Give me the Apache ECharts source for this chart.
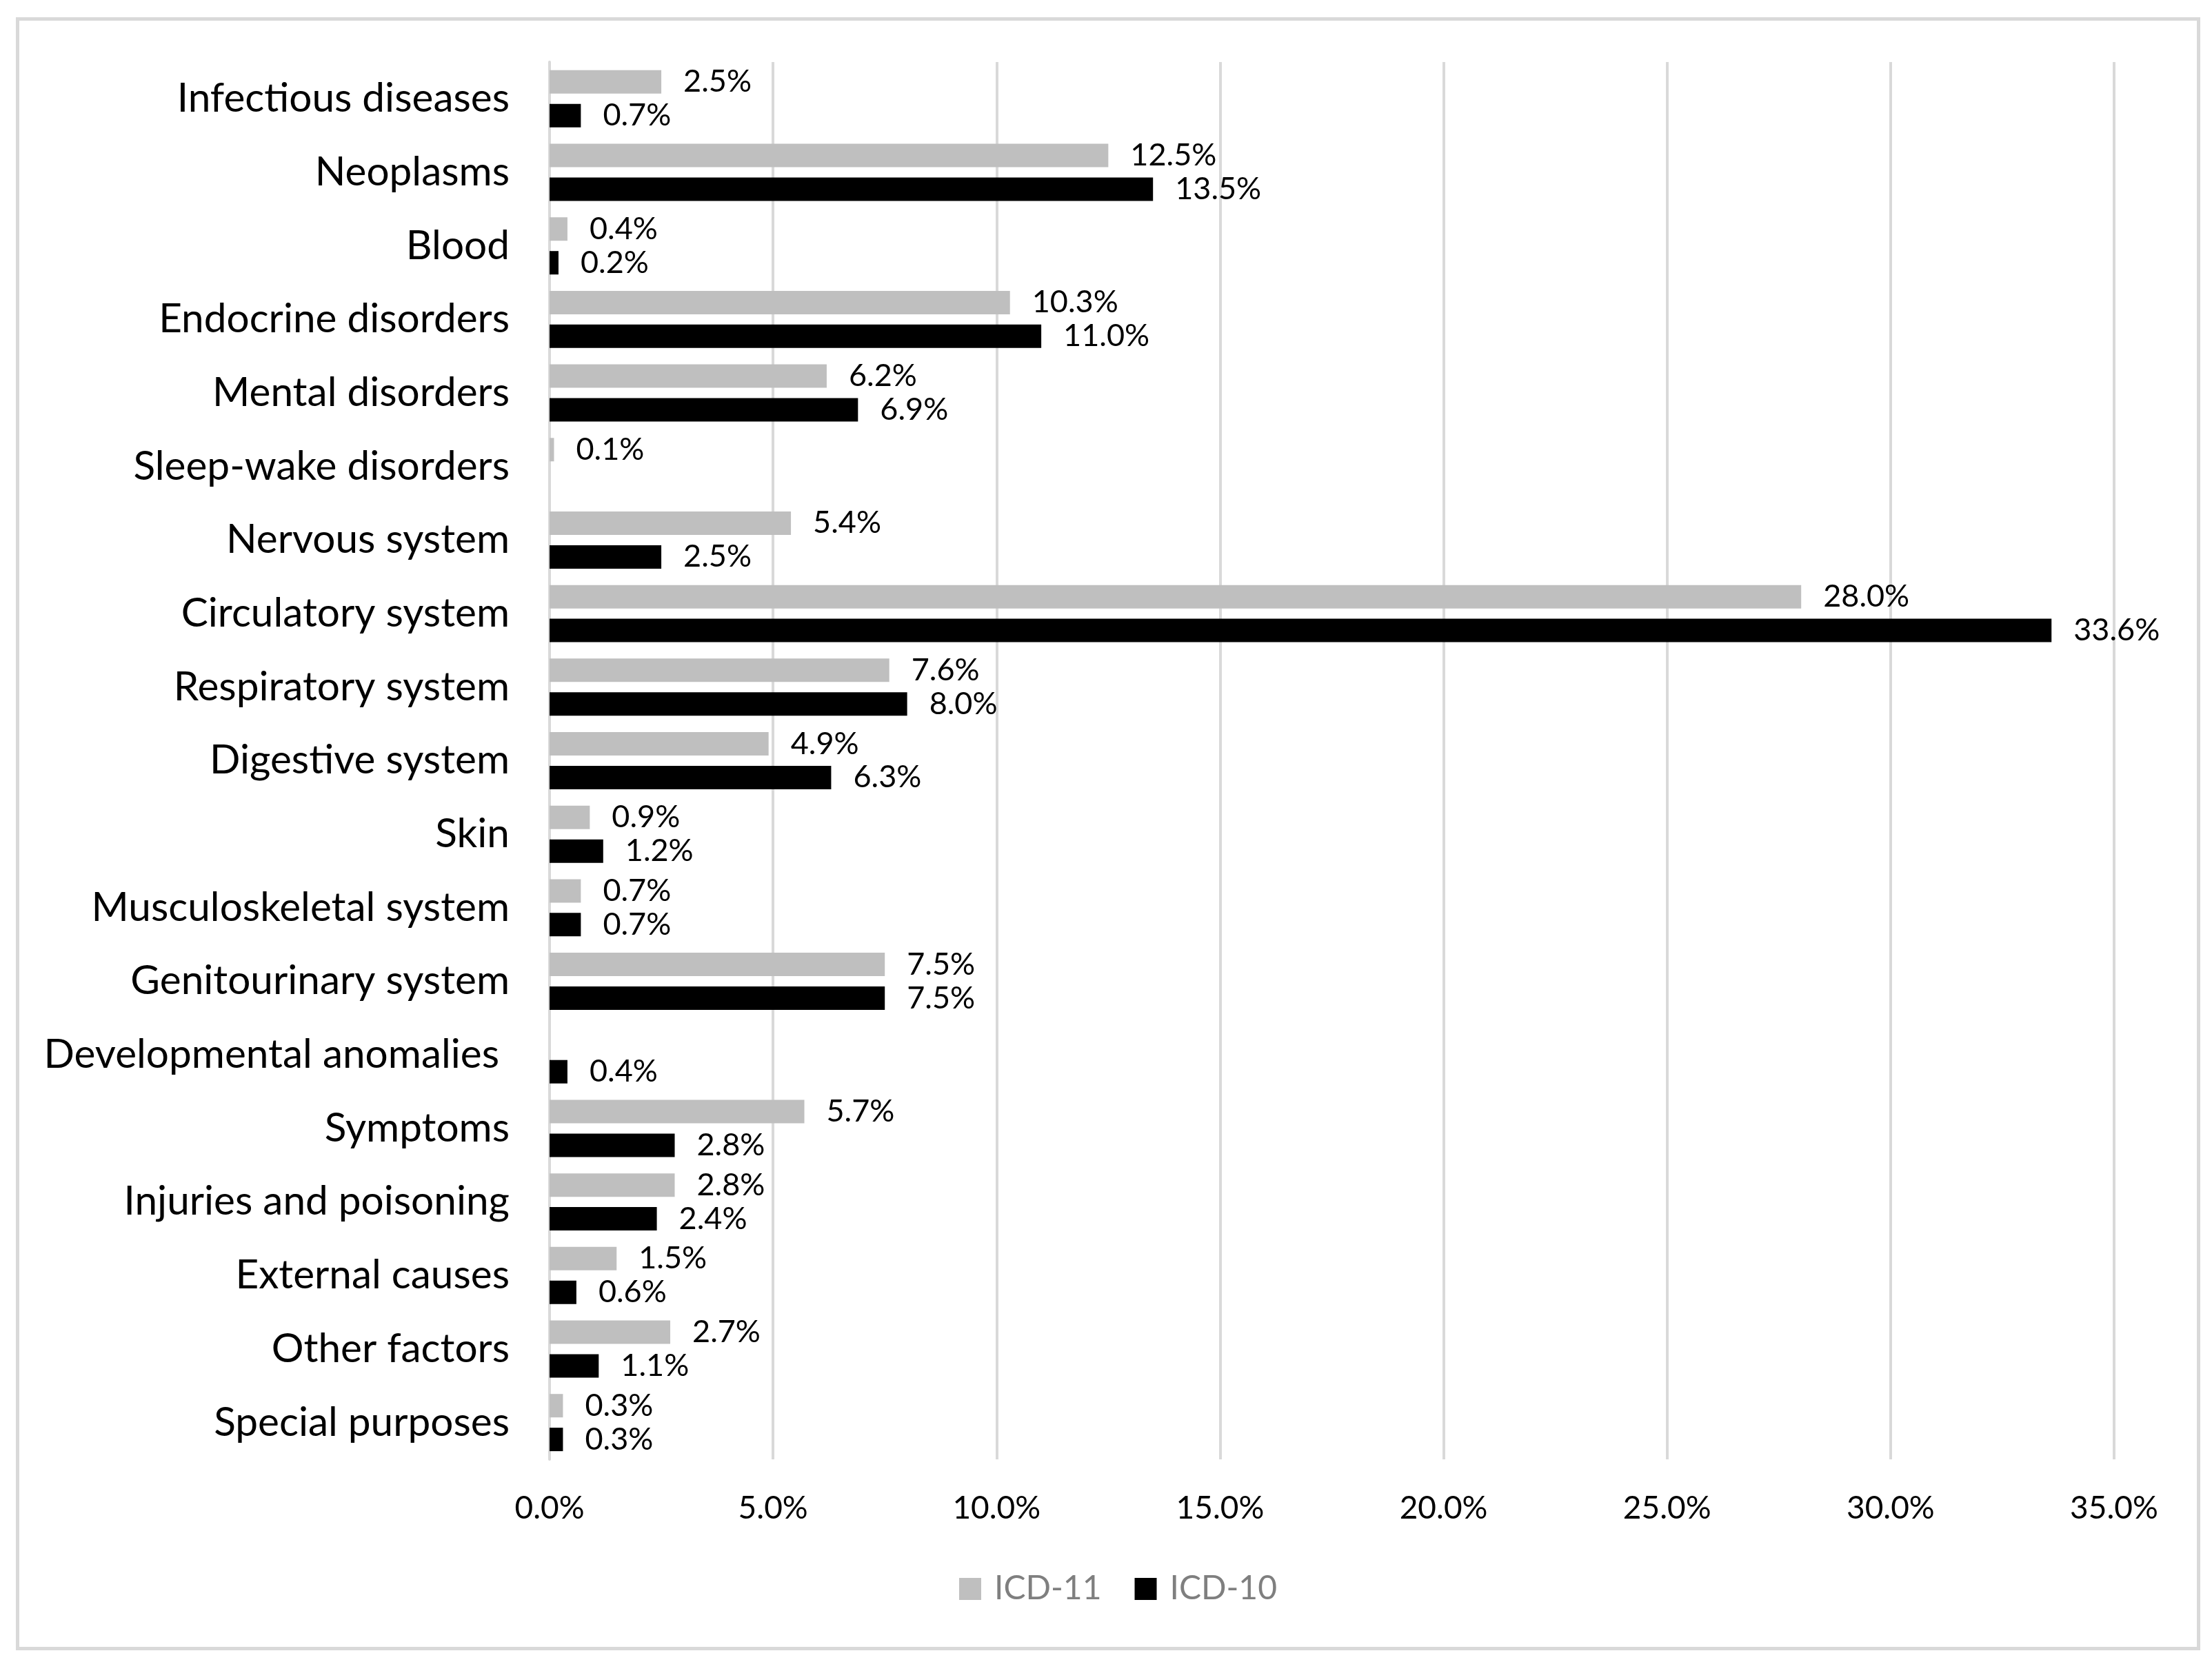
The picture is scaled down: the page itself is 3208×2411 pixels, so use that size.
<!DOCTYPE html>
<html>
<head>
<meta charset="utf-8">
<script src="https://cdn.jsdelivr.net/npm/echarts@6/dist/echarts.min.js"></script>
<style>
html,body{margin:0;padding:0;background:#fff;}
#chart{width:3208px;height:2411px;}
</style>
</head>
<body>
<div id="chart"></div>
<script>
const categories = [
  'Infectious diseases','Neoplasms','Blood','Endocrine disorders','Mental disorders',
  'Sleep-wake disorders','Nervous system','Circulatory system','Respiratory system',
  'Digestive system','Skin','Musculoskeletal system','Genitourinary system',
  'Developmental anomalies ','Symptoms','Injuries and poisoning','External causes',
  'Other factors','Special purposes'
];
const icd11 = [2.5,12.5,0.4,10.3,6.2,0.1,5.4,28.0,7.6,4.9,0.9,0.7,7.5,null,5.7,2.8,1.5,2.7,0.3];
const icd10 = [0.7,13.5,0.2,11.0,6.9,null,2.5,33.6,8.0,6.3,1.2,0.7,7.5,0.4,2.8,2.4,0.6,1.1,0.3];
const xTicks = [0,5,10,15,20,25,30,35];

const FONT = 'Lato';
const chart = echarts.init(document.getElementById('chart'), null, {renderer:'canvas'});
const lbl = {
  show:true, position:'right', distance:32,
  fontFamily:FONT, fontSize:45, color:'#000',
  formatter: p => (p.value == null ? '' : p.value.toFixed(1) + '%')
};
chart.setOption({
  backgroundColor:'#fff',
  animation:false,
  graphic:[{
    type:'rect', left:23, top:25,
    shape:{x:0,y:0,width:3163,height:2364},
    style:{fill:'none', stroke:'#d9d9d9', lineWidth:5}, silent:true
  }],
  grid:{left:797, right:142, top:90, bottom:294, containLabel:false},
  legend:{
    left:1386, top:2276,
    icon:'rect', itemWidth:32, itemHeight:32, itemGap:48,
    textStyle:{fontFamily:FONT, fontSize:48, color:'#7f7f7f', padding:[0,0,0,14]},
    data:['ICD-11','ICD-10']
  },
  xAxis:{
    type:'value', min:xTicks[0], max:xTicks[xTicks.length-1], interval:5,
    axisLine:{show:false}, axisTick:{show:false},
    splitLine:{show:true, lineStyle:{color:'#d9d9d9', width:4}},
    axisLabel:{fontFamily:FONT, fontSize:46, color:'#000', margin:48,
      formatter: v => v.toFixed(1) + '%'}
  },
  yAxis:{
    type:'category', data:categories, inverse:true,
    axisLine:{show:true, lineStyle:{color:'#d9d9d9', width:4}},
    axisTick:{show:false},
    axisLabel:{fontFamily:FONT, fontSize:58.5, color:'#000', margin:58}
  },
  series:[
    {name:'ICD-11', type:'bar', data:icd11, barWidth:34, barGap:'44%',
      itemStyle:{color:'#bfbfbf'}, label:lbl},
    {name:'ICD-10', type:'bar', data:icd10, barWidth:34, barGap:'44%',
      itemStyle:{color:'#000000'}, label:lbl}
  ]
});
</script>
</body>
</html>
